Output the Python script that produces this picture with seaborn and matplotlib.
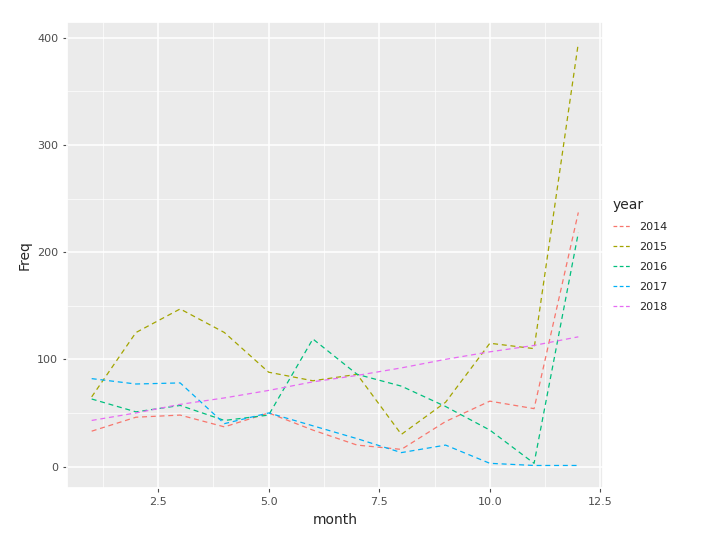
import seaborn as sns
import pandas as pd
import matplotlib.pyplot as plt
from matplotlib.lines import Line2D

months = list(range(1, 13))
years = ["2014", "2015", "2016", "2017", "2018"]
freq_2014 = [33, 46, 48, 37, 50, 34, 20, 16, 42, 61, 54, 237]
freq_2015 = [65, 125, 147, 125, 88, 80, 86, 30, 60, 115, 110, 395]
freq_2016 = [63, 51, 57, 43, 48, 119, 86, 75, 56, 34, 3, 218]
freq_2017 = [82, 77, 78, 40, 50, 38, 26, 13, 20, 3, 1, 1]
freq_2018 = [43, 50, 58, 64, 71, 79, 85, 92, 100, 107, 113, 121]
colors = ["#F8766D", "#A3A500", "#00BF7D", "#00B0F6", "#E76BF3"]

rows = []
for y, vals in zip(years, [freq_2014, freq_2015, freq_2016, freq_2017, freq_2018]):
    for m, v in zip(months, vals):
        rows.append({"month": m, "Freq": v, "year": y})
df = pd.DataFrame(rows)

sns.set_theme(style="darkgrid", rc={"axes.facecolor": "#EBEBEB", "grid.color": "white"})
fig = plt.figure(figsize=(7.09, 5.41), dpi=100)
ax = fig.add_axes([0.095, 0.098, 0.755, 0.862])
sns.lineplot(data=df, x="month", y="Freq", hue="year", palette=colors, ax=ax,
             linewidth=0.9, dashes=False, legend=False)
for l in ax.lines:
    l.set_linestyle((0, (4, 3)))
ax.set_xlim(0.45, 12.55)
ax.set_ylim(-20, 415)
ax.set_xticks([2.5, 5.0, 7.5, 10.0, 12.5])
ax.set_xticklabels(["2.5", "5.0", "7.5", "10.0", "12.5"])
ax.set_yticks([0, 100, 200, 300, 400])
ax.set_xticks([1.25, 3.75, 6.25, 8.75, 11.25], minor=True)
ax.set_yticks([50, 150, 250, 350], minor=True)
ax.grid(which="minor", color="white", linewidth=0.5)
ax.grid(which="major", color="white", linewidth=1.1)
ax.tick_params(colors="#4D4D4D", labelsize=8, length=3, width=0.8, which="major", left=True, bottom=True)
ax.tick_params(which="minor", length=0)
ax.set_xlabel("month", fontsize=10)
ax.set_ylabel("Freq", fontsize=10)

handles = [Line2D([], [], color=c, lw=0.9, linestyle=(0, (3, 2))) for c in colors]
leg = ax.legend(handles, years, title="year", loc="center left", bbox_to_anchor=(1.0, 0.5),
                frameon=False, fontsize=8, title_fontsize=10, handlelength=1.6,
                labelspacing=0.9)
leg._legend_box.align = "left"
fig.savefig("out.png")
